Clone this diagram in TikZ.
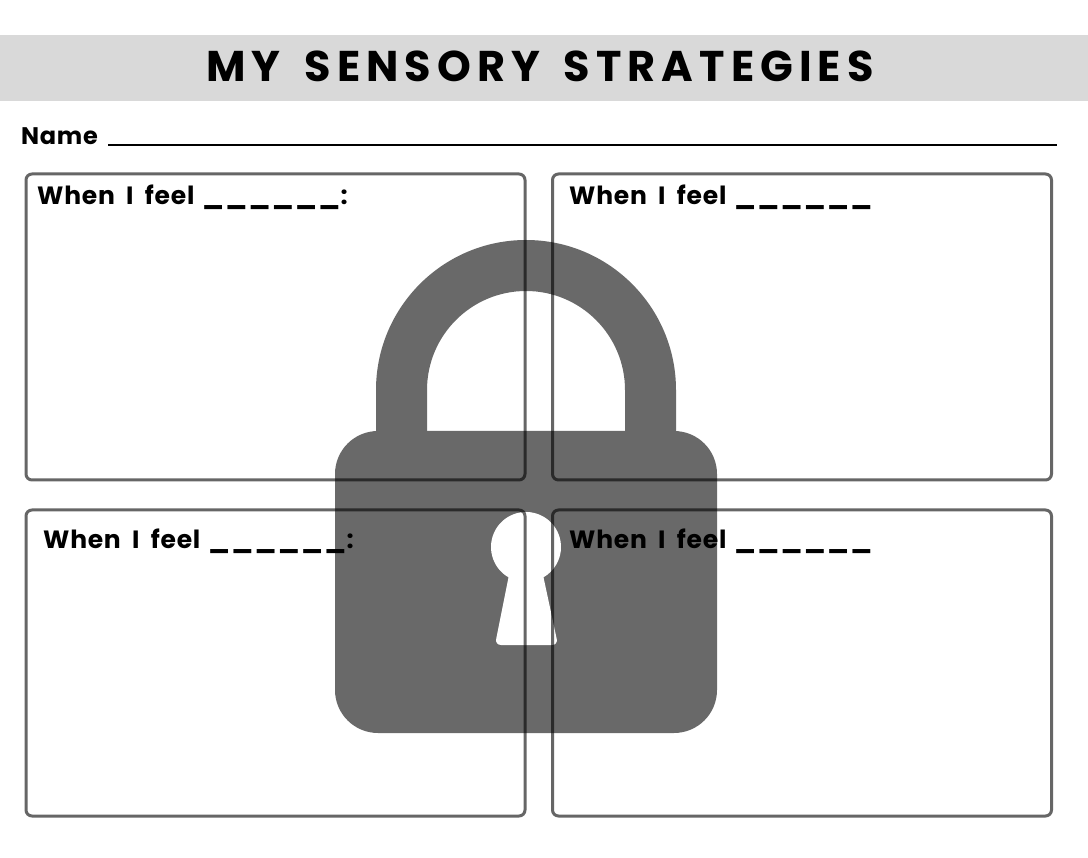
\documentclass[tikz,border=0pt]{standalone}
\usepackage{fontspec}
\usepackage{graphicx}
\setmainfont{Poppins}[BoldFont={Poppins Bold}]
\newfontfamily\titlefont{Poppins}[BoldFont={Poppins Bold},LetterSpace=14,WordSpace=1.58]
\newfontfamily\bodyfont{Poppins}[BoldFont={Poppins Bold},LetterSpace=3,WordSpace=1.88]
\definecolor{band}{HTML}{D9D9D9}
\definecolor{lockgrey}{HTML}{696969}
\definecolor{boxline}{HTML}{666666}
\newcommand{\blanks}{\kern-4pt\scalebox{1.15}[1]{\textunderscore\textunderscore\textunderscore\textunderscore\textunderscore\textunderscore}}
\begin{document}
\begin{tikzpicture}[x=1pt,y=-1pt,
  panel/.style={draw=boxline,line width=3pt,rounded corners=6pt,minimum width=499pt,minimum height=306pt,inner sep=0pt,outer sep=0pt},
  feel/.style={anchor=base west,inner sep=0pt,font=\bodyfont\bfseries\fontsize{25}{30}\selectfont,text=black},
  lockfill/.style={fill=lockgrey,draw=none}]
\useasboundingbox (0,0) rectangle (1088,858);
\fill[white] (0,0) rectangle (1088,858);
\fill[band] (0,35) rectangle (1088,101);
\node[inner sep=0pt,font=\titlefont\bfseries\fontsize{43}{50}\selectfont] (title) at (540,66) {MY SENSORY STRATEGIES};
\node[feel,font=\bodyfont\bfseries\fontsize{24}{30}\selectfont] (name) at (21,145) {Name};
\coordinate (lineL) at (108,145);
\coordinate (lineR) at (1057,145);
\draw[black,line width=2.5pt] (lineL) -- (lineR);
% padlock
\fill[lockfill] (376,432) -- (376,390) arc[start angle=180,end angle=360,radius=150] -- (676,432) -- (625,432) -- (625,390) arc[start angle=360,end angle=180,radius=99] -- (427,432) -- cycle;
\fill[lockfill,rounded corners=43pt] (335,431) rectangle (717,733);
\fill[white] (508.5,577.3) arc[start angle=120,end angle=420,radius=35]
  [rounded corners=6pt] -- (558,645) -- (495,645) [sharp corners] -- cycle;
% panels
\begin{scope}[blend mode=multiply]
\node[panel,anchor=north west] (tl) at (26,174) {};
\node[panel,anchor=north west] (tr) at (552.5,174) {};
\node[panel,anchor=north west] (bl) at (26,510) {};
\node[panel,anchor=north west] (br) at (552.5,510) {};
\end{scope}
\node[feel] (ta) at (37,205) {When I feel \blanks:};
\node[feel] (tb) at (569,205) {When I feel \blanks};
\node[feel] (tc) at (43,549) {When I feel \blanks:};
\node[feel] (td) at (569,549) {When I feel \blanks};
\end{tikzpicture}
\end{document}
